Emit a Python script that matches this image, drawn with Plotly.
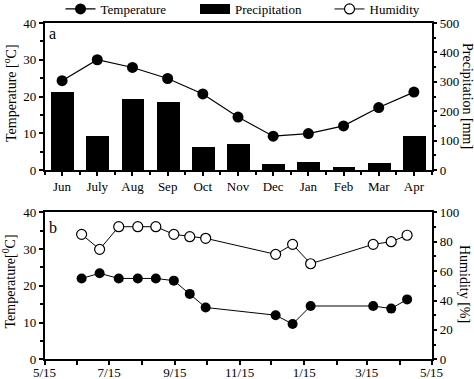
import plotly.graph_objects as go
import numpy as np

# ---- data ----
months = ["Jun", "July", "Aug", "Sep", "Oct", "Nov", "Dec", "Jan", "Feb", "Mar", "Apr"]
monthly_temp = [24.3, 30.0, 27.9, 24.9, 20.7, 14.4, 9.2, 9.9, 12.0, 17.0, 21.2]
monthly_precip = [267, 114, 243, 231, 77, 90, 20, 27, 10, 23, 115]

sample_dates = ["2010-06-19", "2010-07-06", "2010-07-24", "2010-08-11", "2010-08-28",
                "2010-09-14", "2010-09-29", "2010-10-14", "2010-12-19", "2011-01-04",
                "2011-01-21", "2011-03-21", "2011-04-07", "2011-04-22"]
sample_temp = [22.0, 23.4, 22.0, 22.0, 22.0, 21.4, 17.8, 14.1, 12.0, 9.6, 14.5, 14.5, 13.8, 16.3]
sample_humidity = [85.0, 74.8, 90.2, 90.2, 90.2, 85.0, 83.4, 82.3, 71.4, 78.2, 65.0, 78.2, 80.0, 84.4]

date_ticks = ["2010-05-15", "2010-06-15", "2010-07-15", "2010-08-15", "2010-09-15", "2010-10-15",
              "2010-11-15", "2010-12-15", "2011-01-15", "2011-02-15", "2011-03-15", "2011-04-15",
              "2011-05-15"]
date_ticktext = ["5/15", "", "7/15", "", "9/15", "", "11/15", "", "1/15", "", "3/15", "", "5/15"]

W, H = 474, 379
FONT = "Liberation Serif"
idx = list(range(len(months)))

def px_x(p):
    return p / W

def px_y(p):
    return 1 - p / H

x_dom = [px_x(44.5), px_x(431.5)]
top_dom = [px_y(170), px_y(23)]
bot_dom = [px_y(359.3), px_y(212.3)]

fig = go.Figure()

# top panel
fig.add_trace(go.Bar(x=idx, y=monthly_precip, marker=dict(color="black", line=dict(width=0)),
                     width=0.65, xaxis="x", yaxis="y", showlegend=False, name="Precipitation"))
fig.add_trace(go.Scatter(x=idx, y=monthly_temp, mode="lines+markers", name="Temperature",
                         line=dict(color="black", width=1.2),
                         marker=dict(color="black", size=11, symbol="circle"),
                         xaxis="x", yaxis="y2"))
fig.add_trace(go.Scatter(x=[None], y=[None], mode="lines", name="Precipitation",
                         line=dict(color="black", width=12), xaxis="x", yaxis="y2"))

# bottom panel
fig.add_trace(go.Scatter(x=sample_dates, y=sample_temp, mode="lines+markers", name="Temperature",
                         line=dict(color="black", width=1),
                         marker=dict(color="black", size=10, symbol="circle"),
                         xaxis="x2", yaxis="y3", showlegend=False))
fig.add_trace(go.Scatter(x=sample_dates, y=sample_humidity, mode="lines+markers", name="Humidity",
                         line=dict(color="black", width=1),
                         marker=dict(color="white", size=10, symbol="circle",
                                     line=dict(color="black", width=1.2)),
                         xaxis="x2", yaxis="y4"))

axis_common = dict(showline=True, linecolor="black", linewidth=1.5, ticks="outside",
                   ticklen=4, tickwidth=1.5, tickcolor="black", showgrid=False, zeroline=False,
                   automargin=False,
                   tickfont=dict(family=FONT, size=13, color="black"))
minor_common = dict(ticks="outside", ticklen=3, tickwidth=1.5, tickcolor="black", showgrid=False)

fig.update_layout(
    width=W, height=H,
    margin=dict(l=0, r=0, t=0, b=0, pad=0, autoexpand=False),
    paper_bgcolor="white", plot_bgcolor="white",
    font=dict(family=FONT, size=13, color="black"),
    bargap=0,
    xaxis=dict(domain=x_dom, anchor="y", range=[-0.5, len(months) - 0.5],
               tickmode="array", tickvals=idx, ticktext=months, mirror=True,
               minor=dict(tickmode="linear", tick0=0.5, dtick=1, **minor_common),
               **axis_common),
    yaxis=dict(domain=top_dom, anchor="x", side="right", range=[0, 500], dtick=100,
               minor=dict(dtick=50, **minor_common), **axis_common),
    yaxis2=dict(overlaying="y", anchor="x", side="left", range=[0, 40], dtick=10,
                minor=dict(dtick=5, **minor_common), **axis_common),
    xaxis2=dict(domain=x_dom, anchor="y3", type="date", range=["2010-05-15", "2011-05-15"],
                tickmode="array", tickvals=date_ticks, ticktext=date_ticktext, mirror=True,
                ticklabelstandoff=-4, **axis_common),
    yaxis3=dict(domain=bot_dom, anchor="x2", side="left", range=[0, 40], dtick=10,
                minor=dict(dtick=5, **minor_common), **axis_common),
    yaxis4=dict(overlaying="y3", anchor="x2", side="right", range=[0, 100], dtick=20,
                minor=dict(dtick=10, **minor_common), **axis_common),
    legend=dict(orientation="h", x=px_x(60.5), y=1 + 6 / H, xanchor="left", yanchor="top",
                font=dict(family=FONT, size=13, color="black"), bgcolor="rgba(0,0,0,0)",
                tracegroupgap=0, itemsizing="trace", borderwidth=0,
                entrywidth=89.5, entrywidthmode="pixels"),
)

ann_font = dict(family=FONT, size=14, color="black")
annotations = [
    dict(text="Temperature [<sup>o</sup>C]", x=px_x(10), y=px_y(93), textangle=-90),
    dict(text="Temperature[<sup>0</sup>C]", x=px_x(9), y=px_y(281.5), textangle=-90),
    dict(text="Precipitation [mm]", x=px_x(468), y=px_y(96), textangle=90),
    dict(text="Humidity [%]", x=px_x(465), y=px_y(284), textangle=90),
    dict(text="a", x=px_x(52), y=px_y(33), font=dict(family=FONT, size=16, color="black")),
    dict(text="b", x=px_x(53), y=px_y(227), font=dict(family=FONT, size=16, color="black")),
]
for a in annotations:
    a.setdefault("font", ann_font)
    fig.add_annotation(xref="paper", yref="paper", showarrow=False, xanchor="center",
                       yanchor="middle", **a)

fig.write_html("out.html", config={"displayModeBar": False},
               post_script="document.body.style.margin='0';document.body.style.overflow='hidden';")
